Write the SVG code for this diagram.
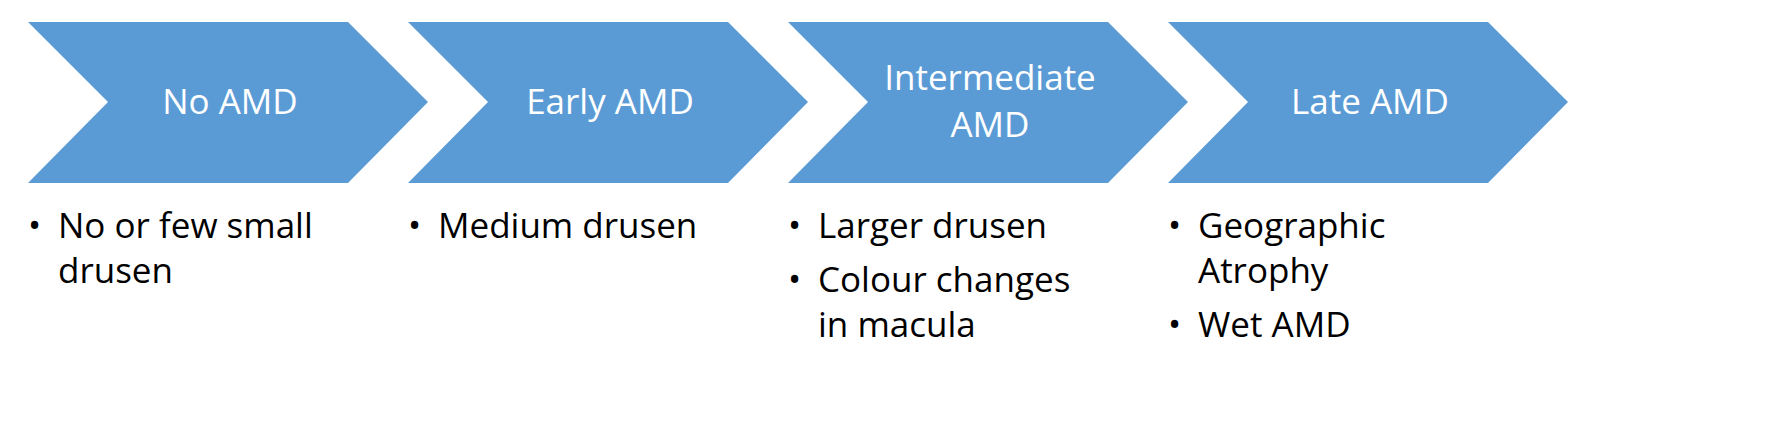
<svg xmlns="http://www.w3.org/2000/svg" width="1770" height="426" viewBox="0 0 1770 426">
<style>
.ch{fill:#5b9bd5}
.t{font-family:"Open Sans","Liberation Sans",sans-serif;font-size:35px;fill:#fff;text-anchor:middle}
.b{font-family:"Open Sans","Liberation Sans",sans-serif;font-size:35px;fill:#000}
</style>
<rect width="1770" height="426" fill="#fff"/>
<defs><polygon id="chev" points="0,22 320,22 400,102 320,183 0,183 80,102"/></defs>
<g id="node1"><use href="#chev" x="28" class="ch"/><text class="t" x="230" y="114">No AMD</text>
<text class="b" x="28" y="238">•</text><text class="b" x="58" y="238">No or few small</text><text class="b" x="58" y="283">drusen</text></g>
<g id="node2"><use href="#chev" x="408" class="ch"/><text class="t" x="610" y="114">Early AMD</text>
<text class="b" x="408" y="238">•</text><text class="b" x="438" y="238">Medium drusen</text></g>
<g id="node3"><use href="#chev" x="788" class="ch"/><text class="t" x="990" y="90">Intermediate</text><text class="t" x="990" y="137">AMD</text>
<text class="b" x="788" y="238">•</text><text class="b" x="818" y="238">Larger drusen</text><text class="b" x="788" y="292">•</text><text class="b" x="818" y="292">Colour changes</text><text class="b" x="818" y="337">in macula</text></g>
<g id="node4"><use href="#chev" x="1168" class="ch"/><text class="t" x="1370" y="114">Late AMD</text>
<text class="b" x="1168" y="238">•</text><text class="b" x="1198" y="238">Geographic</text><text class="b" x="1198" y="283">Atrophy</text><text class="b" x="1168" y="337">•</text><text class="b" x="1198" y="337">Wet AMD</text></g>
<g id="connectors"/>
</svg>
